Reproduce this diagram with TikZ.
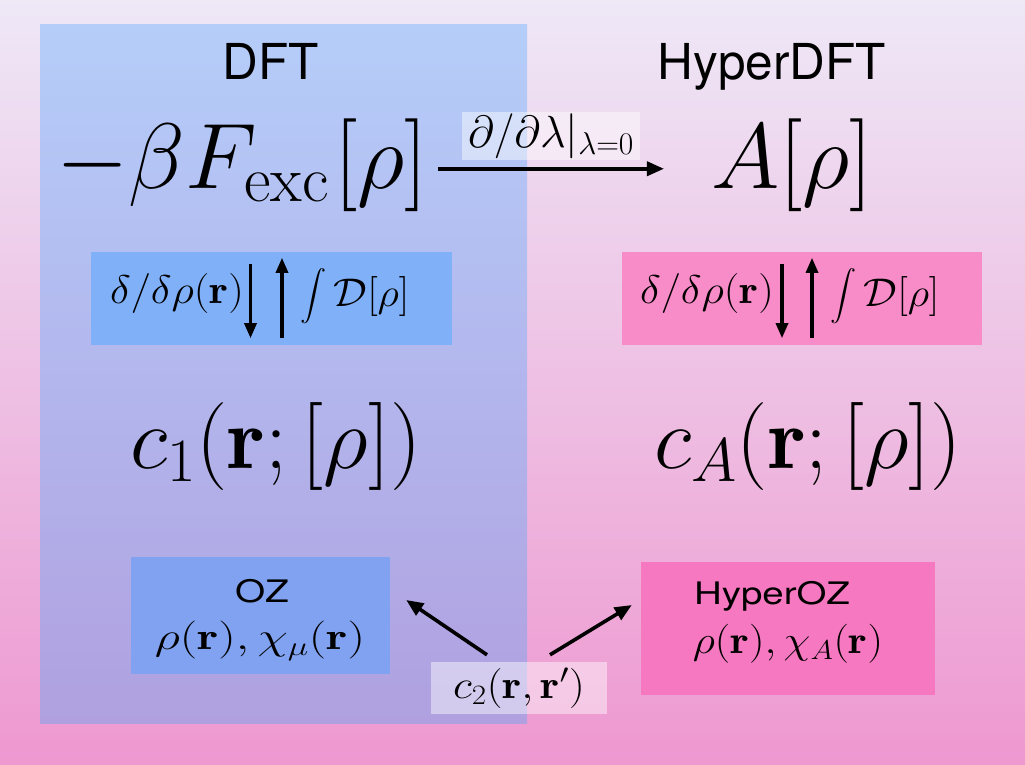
\RequirePackage{fix-cm}
\documentclass[tikz,border=0pt]{standalone}
\usepackage{amsmath}
\usepackage{exscale}
\usepackage{graphicx}
\usepackage{fontspec}
\setsansfont{TeX Gyre Heros}
\usetikzlibrary{arrows.meta}
\definecolor{bgtop}{RGB}{238,232,247}
\definecolor{bgbot}{RGB}{238,152,208}
\definecolor{dfttop}{RGB}{181,205,249}
\definecolor{dftbot}{RGB}{176,160,224}
\definecolor{bluebox}{RGB}{128,176,248}
\definecolor{ozbox}{RGB}{128,162,240}
\definecolor{pinkbox}{RGB}{248,140,200}
\definecolor{hozbox}{RGB}{246,120,192}
\newcommand{\hstretch}[2]{\scalebox{#1}[1]{#2}}
\begin{document}
\begin{tikzpicture}[x=1pt,y=-1pt,
  sanslab/.style={font=\sffamily\fontsize{49.5}{56}\selectfont, inner sep=0pt, anchor=base},
  smallsans/.style={font=\sffamily\fontsize{31}{36}\selectfont, inner sep=0pt, anchor=base},
  bigmath/.style={font=\fontsize{93}{100}\selectfont, inner sep=0pt},
  midmath/.style={font=\fontsize{88}{95}\selectfont, inner sep=0pt},
  lowmath/.style={font=\fontsize{40}{46}\selectfont, inner sep=0pt},
  panel/.style={rectangle, inner sep=0pt},
  glass/.style={fill=white, fill opacity=0.45, text opacity=1, inner sep=0pt},
  arr/.style={line width=3.6pt, -{Triangle[length=17pt,width=14pt]}},
  varr/.style={line width=3.2pt, -{Triangle[length=15pt,width=12pt]}}
]
\useasboundingbox (0,0) rectangle (1025,765);
\shade[top color=bgtop, bottom color=bgbot] (0,0) rectangle (1025,765);
\shade[top color=dfttop, bottom color=dftbot] (40,25) rectangle (527,723);

% titles
\node[sanslab] (dft) at (271,80) {DFT};
\node[sanslab] (hdft) at (772,80) {HyperDFT};

% top functionals
\node[bigmath, anchor=base] (F) at (242,188) {$-\beta F_{\text{exc}}\mkern1mu[\rho]$};
\node[bigmath, anchor=base] (A) at (792,188) {$A[\rho]$};
\node[glass, minimum width=178pt, minimum height=47pt, font=\fontsize{45}{50}\selectfont] (lam) at (551,136) {$\partial/\partial\lambda|_{\lambda=0}$};
\draw[arr, shorten <=10pt, shorten >=47pt] ([yshift=-4pt]F.east) -- ([yshift=-4pt]A.west);

% derivative boxes
\node[panel, fill=bluebox, minimum width=361pt, minimum height=93pt] (db1) at (271.5,298.5) {};
\node[lowmath] (d1) at (177,293) {\hstretch{1.1}{$\delta/\delta\rho(\mathbf{r})$}};
\node[lowmath] (i1) at (355,296) {\hstretch{1.05}{$\displaystyle\int\mathcal{D}[\rho]$}};
\draw[varr] ([xshift=-21pt,yshift=-12pt]db1.north) -- ([xshift=-21pt,yshift=7pt]db1.south);
\draw[varr] ([xshift=10.5pt,yshift=7pt]db1.south) -- ([xshift=10.5pt,yshift=-6pt]db1.north);

\node[panel, fill=pinkbox, minimum width=360pt, minimum height=93pt] (db2) at (802,298.5) {};
\node[lowmath] (d2) at (707,293) {\hstretch{1.1}{$\delta/\delta\rho(\mathbf{r})$}};
\node[lowmath] (i2) at (885,296) {\hstretch{1.05}{$\displaystyle\int\mathcal{D}[\rho]$}};
\draw[varr] ([xshift=-20pt,yshift=-12pt]db2.north) -- ([xshift=-20pt,yshift=7pt]db2.south);
\draw[varr] ([xshift=10pt,yshift=7pt]db2.south) -- ([xshift=10pt,yshift=-6pt]db2.north);

% one-body direct correlation
\node[midmath] (c1) at (276,446) {$c_1(\mathbf{r};[\rho])$};
\node[midmath] (cA) at (808,446) {$c_A(\mathbf{r};[\rho])$};

% OZ boxes
\node[panel, fill=ozbox, minimum width=259pt, minimum height=117pt] (oz) at (260.5,615.5) {};
\node[smallsans] (ozt) at (262,602) {\hstretch{1.25}{OZ}};
\node[font=\fontsize{38}{44}\selectfont, inner sep=0pt] (ozm) at (260,641) {\hstretch{1.3}{$\rho(\mathbf{r}),\chi_\mu(\mathbf{r})$}};

\node[panel, fill=hozbox, minimum width=294pt, minimum height=133pt] (hoz) at (788,628.5) {};
\node[smallsans] (hozt) at (772,604) {\hstretch{1.24}{HyperOZ}};
\node[font=\fontsize{39}{45}\selectfont, inner sep=0pt] (hozm) at (788,644) {\hstretch{1.12}{$\rho(\mathbf{r}),\chi_A(\mathbf{r})$}};

% pair correlation
\node[glass, minimum width=176pt, minimum height=52pt, font=\fontsize{40}{46}\selectfont] (c2) at (519,688) {\hstretch{1.11}{$c_2(\mathbf{r},\mathbf{r}')$}};
\draw[arr] ([xshift=-32pt,yshift=7pt]c2.north) -- ([xshift=16pt,yshift=15.5pt]oz.east);
\draw[arr] ([xshift=31pt,yshift=7pt]c2.north) -- ([xshift=-9pt,yshift=23.5pt]hoz.west);
\end{tikzpicture}
\end{document}
